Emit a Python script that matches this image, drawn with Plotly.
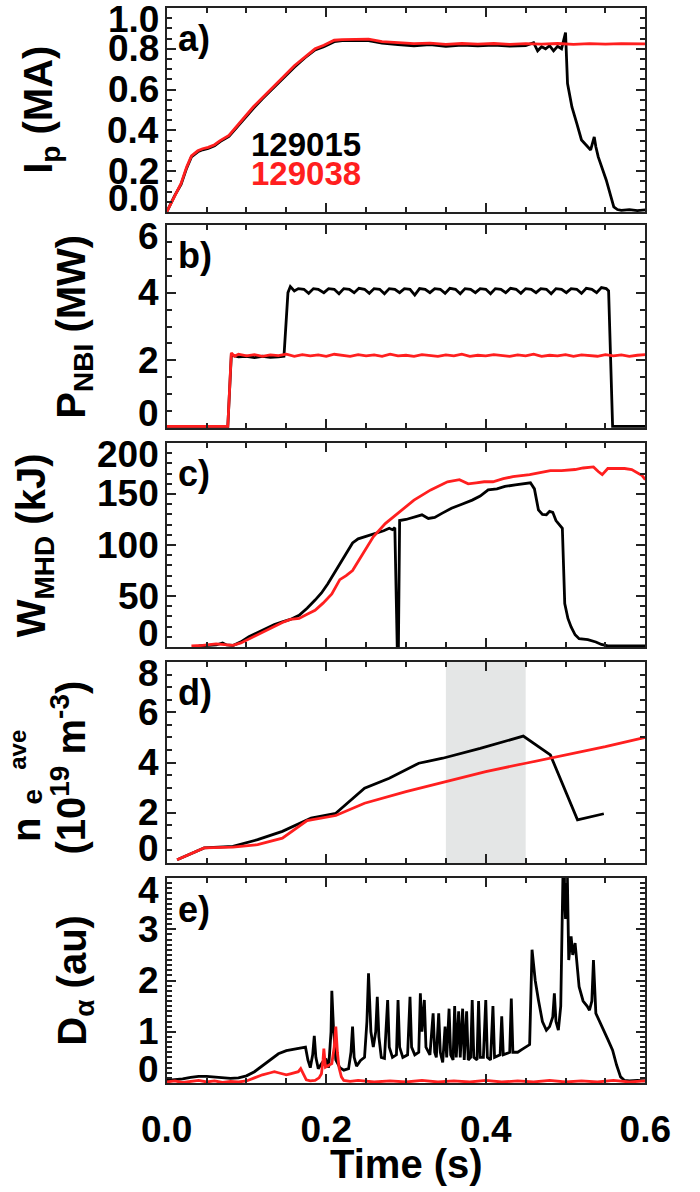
import plotly.graph_objects as go

# ---------------- data (time in s, value) ----------------
ip_129015 = [(0, 0), (0.01, 0.08), (0.018, 0.135), (0.025, 0.215), (0.031, 0.27), (0.039, 0.295),
             (0.045, 0.305), (0.052, 0.312), (0.06, 0.325), (0.067, 0.345), (0.078, 0.37), (0.09, 0.425),
             (0.109, 0.51), (0.12, 0.555), (0.134, 0.61), (0.147, 0.66), (0.16, 0.71), (0.173, 0.755),
             (0.186, 0.795), (0.197, 0.81), (0.205, 0.825), (0.21, 0.835), (0.22, 0.84), (0.238, 0.842),
             (0.253, 0.84), (0.27, 0.828), (0.29, 0.82), (0.31, 0.815), (0.33, 0.82), (0.35, 0.812),
             (0.37, 0.818), (0.39, 0.814), (0.41, 0.818), (0.43, 0.813), (0.45, 0.816), (0.46, 0.83),
             (0.465, 0.79), (0.47, 0.81), (0.475, 0.80), (0.48, 0.815), (0.485, 0.79), (0.49, 0.812),
             (0.495, 0.80), (0.4985, 0.85), (0.5, 0.88), (0.5025, 0.63), (0.508, 0.515), (0.514, 0.436),
             (0.52, 0.353), (0.5315, 0.304), (0.536, 0.368), (0.538, 0.32), (0.541, 0.27), (0.551, 0.157),
             (0.5605, 0.025), (0.565, 0.012), (0.57, 0.008), (0.58, 0.012), (0.59, 0.007), (0.6, 0.01)]
ip_129038 = [(0, 0), (0.01, 0.08), (0.018, 0.14), (0.025, 0.22), (0.031, 0.275), (0.039, 0.30),
             (0.045, 0.31), (0.052, 0.317), (0.06, 0.33), (0.067, 0.35), (0.078, 0.375), (0.09, 0.43),
             (0.109, 0.517), (0.12, 0.56), (0.134, 0.617), (0.147, 0.665), (0.16, 0.717), (0.173, 0.76),
             (0.186, 0.80), (0.197, 0.817), (0.205, 0.835), (0.21, 0.842), (0.22, 0.845), (0.238, 0.847),
             (0.253, 0.847), (0.27, 0.835), (0.29, 0.83), (0.31, 0.825), (0.33, 0.828), (0.35, 0.822),
             (0.37, 0.826), (0.39, 0.823), (0.41, 0.826), (0.43, 0.822), (0.45, 0.825), (0.47, 0.823),
             (0.49, 0.826), (0.51, 0.822), (0.53, 0.825), (0.55, 0.823), (0.57, 0.825), (0.59, 0.822),
             (0.6, 0.824)]

pnbi_129015 = [(0, 0.05), (0.0766, 0.05), (0.081, 2.15), (0.09, 2.1), (0.1, 2.12), (0.11, 2.08),
               (0.12, 2.12), (0.13, 2.09), (0.14, 2.1), (0.147, 2.12), (0.152, 4.0), (0.155, 4.18),
               (0.16, 4.05), (0.165, 4.12), (0.172, 4.1), (0.178, 3.98), (0.184, 4.12), (0.19, 4.1),
               (0.197, 4.0), (0.203, 4.12), (0.21, 4.1), (0.216, 3.97), (0.222, 4.12), (0.229, 4.1),
               (0.235, 4.0), (0.241, 4.13), (0.248, 4.1), (0.254, 3.98), (0.26, 4.12), (0.267, 4.1),
               (0.273, 3.97), (0.279, 4.12), (0.286, 4.1), (0.292, 4.0), (0.298, 4.12), (0.305, 4.1),
               (0.311, 3.93), (0.317, 4.12), (0.324, 4.1), (0.33, 4.0), (0.336, 4.12), (0.343, 4.1),
               (0.349, 3.98), (0.355, 4.13), (0.362, 4.1), (0.368, 3.97), (0.374, 4.12), (0.381, 4.1),
               (0.387, 4.0), (0.393, 4.12), (0.4, 4.1), (0.406, 3.97), (0.412, 4.12), (0.419, 4.1),
               (0.425, 4.0), (0.431, 4.13), (0.438, 4.1), (0.444, 3.98), (0.45, 4.12), (0.457, 4.1),
               (0.463, 4.0), (0.469, 4.12), (0.476, 4.1), (0.482, 3.97), (0.488, 4.12), (0.495, 4.1),
               (0.501, 4.0), (0.507, 4.12), (0.514, 4.1), (0.52, 3.98), (0.526, 4.13), (0.533, 4.1),
               (0.539, 4.0), (0.545, 4.15), (0.551, 4.12), (0.554, 4.05), (0.559, 0.05), (0.6, 0.05)]
pnbi_129038 = [(0, 0.05), (0.0766, 0.05), (0.081, 2.22), (0.085, 2.12), (0.09, 2.18), (0.1, 2.13),
               (0.11, 2.17), (0.12, 2.12), (0.13, 2.16), (0.14, 2.14), (0.15, 2.18), (0.16, 2.12),
               (0.17, 2.17), (0.18, 2.13), (0.19, 2.16), (0.2, 2.12), (0.21, 2.18), (0.22, 2.14),
               (0.23, 2.12), (0.24, 2.17), (0.25, 2.13), (0.26, 2.16), (0.27, 2.12), (0.28, 2.18),
               (0.29, 2.13), (0.3, 2.15), (0.31, 2.12), (0.32, 2.17), (0.33, 2.14), (0.34, 2.12),
               (0.35, 2.16), (0.36, 2.13), (0.37, 2.18), (0.38, 2.12), (0.39, 2.15), (0.4, 2.13),
               (0.41, 2.17), (0.42, 2.14), (0.43, 2.12), (0.44, 2.16), (0.45, 2.13), (0.46, 2.18),
               (0.47, 2.12), (0.48, 2.15), (0.49, 2.13), (0.5, 2.17), (0.51, 2.12), (0.52, 2.16),
               (0.53, 2.14), (0.54, 2.12), (0.55, 2.17), (0.56, 2.13), (0.57, 2.16), (0.58, 2.12),
               (0.59, 2.15), (0.6, 2.17)]

wmhd_129015 = [(0.04, 1), (0.062, 2), (0.07, 4), (0.075, 2), (0.083, 1.5), (0.093, 5), (0.103, 10),
               (0.114, 14), (0.124, 18), (0.135, 22), (0.145, 24.6), (0.155, 27), (0.166, 31),
               (0.176, 38), (0.186, 46), (0.194, 53), (0.202, 62), (0.21, 72), (0.217, 82), (0.225, 92),
               (0.233, 102), (0.24, 106), (0.248, 108), (0.256, 110), (0.264, 111.5), (0.272, 114),
               (0.279, 116.4), (0.283, 115), (0.286, 117), (0.2875, 60), (0.289, 0.5), (0.2905, 0.5),
               (0.292, 124), (0.3, 125), (0.31, 127), (0.32, 129.6), (0.328, 126), (0.336, 127),
               (0.345, 131), (0.357, 136), (0.37, 140), (0.383, 144), (0.393, 148), (0.403, 154),
               (0.414, 155), (0.424, 157.4), (0.437, 159), (0.45, 160.7), (0.456, 161), (0.461, 155),
               (0.466, 134.5), (0.471, 130), (0.476, 129.6), (0.48, 133), (0.484, 132), (0.488, 124),
               (0.491, 121), (0.496, 116.4), (0.499, 42.6), (0.503, 28), (0.507, 19.7), (0.512, 12),
               (0.517, 8.2), (0.523, 7.5), (0.528, 7.2), (0.538, 4.9), (0.545, 2.5), (0.553, 1),
               (0.56, 1), (0.6, 1)]
wmhd_129038 = [(0.031, 1), (0.045, 1.5), (0.062, 3), (0.075, 2), (0.083, 1.6), (0.093, 4), (0.103, 8),
               (0.114, 12), (0.124, 16), (0.135, 20), (0.145, 24), (0.155, 27), (0.166, 28), (0.176, 32),
               (0.186, 36), (0.196, 43), (0.207, 52), (0.217, 66), (0.225, 70), (0.233, 75), (0.246, 92),
               (0.259, 108), (0.274, 121), (0.29, 131), (0.31, 144), (0.331, 154), (0.352, 162),
               (0.367, 164), (0.378, 160), (0.388, 161), (0.398, 162), (0.409, 162), (0.422, 165),
               (0.434, 167), (0.445, 168), (0.455, 169), (0.468, 171), (0.481, 173), (0.495, 173),
               (0.512, 174), (0.522, 175.5), (0.535, 176.5), (0.541, 172), (0.546, 169), (0.553, 175),
               (0.564, 175), (0.574, 175), (0.583, 174), (0.59, 170.5), (0.596, 168), (0.6, 164)]

ne_129015 = [(0.013, 0.13), (0.047, 0.6), (0.083, 0.66), (0.114, 0.93), (0.145, 1.26), (0.181, 1.79),
             (0.212, 1.98), (0.248, 2.98), (0.279, 3.37), (0.316, 3.97), (0.346, 4.17), (0.393, 4.56),
             (0.447, 5.05), (0.481, 4.3), (0.515, 1.72), (0.548, 1.96)]
ne_129038 = [(0.013, 0.13), (0.047, 0.6), (0.083, 0.63), (0.114, 0.73), (0.145, 0.99), (0.176, 1.69),
             (0.212, 1.89), (0.248, 2.38), (0.3, 2.84), (0.35, 3.24), (0.4, 3.64), (0.45, 3.97),
             (0.5, 4.3), (0.55, 4.63), (0.6, 5.0)]

dalpha_129015 = [(0.0, 0.05), (0.01, 0.06), (0.02, 0.08), (0.03, 0.11), (0.04, 0.13), (0.05, 0.13),
                 (0.06, 0.12), (0.07, 0.1), (0.08, 0.09), (0.09, 0.1), (0.1, 0.14), (0.11, 0.22),
                 (0.12, 0.34), (0.13, 0.46), (0.14, 0.57), (0.15, 0.63), (0.16, 0.66), (0.17, 0.68),
                 (0.174, 0.7), (0.177, 0.45), (0.18, 0.3), (0.183, 0.55), (0.185, 0.92), (0.187, 0.5),
                 (0.19, 0.28), (0.195, 0.4), (0.2, 0.45), (0.203, 0.3), (0.206, 1.0), (0.207, 1.8),
                 (0.209, 1.1), (0.212, 0.45), (0.217, 0.3), (0.222, 0.25), (0.228, 0.28), (0.231, 0.6),
                 (0.233, 1.1), (0.235, 0.5), (0.238, 0.33), (0.243, 0.44), (0.248, 0.5), (0.251, 1.2),
                 (0.253, 2.14), (0.256, 1.0), (0.259, 0.7), (0.262, 1.0), (0.264, 1.68), (0.266, 0.9),
                 (0.269, 0.5), (0.273, 0.48), (0.275, 1.0), (0.277, 1.62), (0.279, 0.7), (0.283, 0.5),
                 (0.288, 0.55), (0.29, 1.62), (0.292, 0.7), (0.296, 0.5), (0.302, 0.55), (0.305, 1.68),
                 (0.307, 0.7), (0.311, 0.55), (0.316, 0.6), (0.318, 1.75), (0.32, 1.0), (0.323, 1.62),
                 (0.325, 0.7), (0.33, 0.55), (0.334, 1.36), (0.336, 0.6), (0.338, 0.5), (0.341, 1.36),
                 (0.343, 0.6), (0.346, 0.4), (0.349, 1.1), (0.351, 0.5), (0.354, 1.45), (0.356, 0.55),
                 (0.359, 0.45), (0.361, 1.5), (0.363, 0.5), (0.366, 1.4), (0.368, 0.5), (0.371, 1.45),
                 (0.373, 0.45), (0.376, 1.4), (0.378, 0.45), (0.381, 0.5), (0.383, 1.62), (0.385, 0.5),
                 (0.389, 0.45), (0.391, 1.6), (0.393, 0.5), (0.397, 0.5), (0.4, 1.62), (0.402, 0.5),
                 (0.406, 0.45), (0.409, 1.5), (0.411, 0.5), (0.418, 0.55), (0.42, 1.3), (0.422, 0.55),
                 (0.43, 0.6), (0.432, 1.65), (0.434, 0.6), (0.44, 0.6), (0.445, 0.65), (0.45, 0.7),
                 (0.455, 0.75), (0.458, 2.6), (0.462, 2.0), (0.466, 1.62), (0.471, 1.2), (0.476, 1.03),
                 (0.48, 1.1), (0.484, 1.29), (0.486, 1.75), (0.488, 1.2), (0.491, 1.03), (0.494, 1.5),
                 (0.497, 4.3), (0.5, 3.2), (0.502, 4.3), (0.504, 2.4), (0.507, 2.86), (0.509, 2.5),
                 (0.512, 2.73), (0.517, 1.88), (0.522, 1.6), (0.527, 1.5), (0.53, 1.42), (0.533, 1.6),
                 (0.535, 2.4), (0.538, 1.36), (0.543, 1.2), (0.548, 1.03), (0.553, 0.85), (0.559, 0.64),
                 (0.564, 0.35), (0.569, 0.12), (0.574, 0.05), (0.58, 0.04), (0.59, 0.05), (0.6, 0.04)]
dalpha_129038 = [(0, 0.02), (0.01, 0.04), (0.02, 0.01), (0.03, 0.03), (0.04, 0.05), (0.05, 0.02),
                 (0.06, 0.04), (0.07, 0.01), (0.08, 0.03), (0.09, 0.02), (0.1, 0.04), (0.11, 0.1),
                 (0.12, 0.16), (0.13, 0.2), (0.135, 0.22), (0.14, 0.2), (0.15, 0.16), (0.155, 0.18),
                 (0.16, 0.2), (0.165, 0.22), (0.168, 0.28), (0.171, 0.18), (0.175, 0.06), (0.18, 0.04),
                 (0.186, 0.05), (0.191, 0.1), (0.194, 0.18), (0.196, 0.45), (0.197, 0.67), (0.199, 0.31),
                 (0.203, 0.35), (0.207, 0.38), (0.21, 0.7), (0.212, 1.1), (0.214, 0.6), (0.216, 0.3),
                 (0.219, 0.12), (0.222, 0.05), (0.23, 0.03), (0.24, 0.05), (0.26, 0.02), (0.28, 0.04),
                 (0.3, 0.02), (0.32, 0.05), (0.34, 0.02), (0.36, 0.04), (0.38, 0.02), (0.4, 0.05),
                 (0.42, 0.02), (0.44, 0.04), (0.46, 0.02), (0.48, 0.05), (0.5, 0.02), (0.52, 0.04),
                 (0.54, 0.02), (0.56, 0.05), (0.58, 0.02), (0.6, 0.04)]

shots = ["129015", "129038"]
panel_letters = ["a)", "b)", "c)", "d)", "e)"]
y_ranges = [[0, 1], [0, 6], [0, 200], [0, 8], [0, 4]]
y_tickvals = [[0, 0.2, 0.4, 0.6, 0.8, 1.0], [0, 2, 4, 6], [0, 50, 100, 150, 200],
              [0, 2, 4, 6, 8], [0, 1, 2, 3, 4]]
y_ticktext = [["0.0", "0.2", "0.4", "0.6", "0.8", "1.0"], ["0", "2", "4", "6"],
              ["0", "50", "100", "150", "200"], ["0", "2", "4", "6", "8"], ["0", "1", "2", "3", "4"]]
y_minor = [0.05, 0.5, 10, 0.5, 0.1]
x_tickvals = [0, 0.2, 0.4, 0.6]
x_ticktext = ["0.0", "0.2", "0.4", "0.6"]
shade_window = [0.35, 0.45]

# ---------------- layout constants ----------------
W, H = 700, 1192
XL, XR = 152, 669
panels_px = [(8, 212), (225, 428), (443, 647), (662, 863), (878, 1083)]
BLACK = "#000000"
RED = "#ff1f1f"
AX = "#222222"
FONT = "Liberation Sans, Arial, sans-serif"
LW = 2.8

series = [(ip_129015, ip_129038), (pnbi_129015, pnbi_129038), (wmhd_129015, wmhd_129038),
          (ne_129015, ne_129038), (dalpha_129015, dalpha_129038)]

fig = go.Figure()

for i, (blk, red) in enumerate(series):
    k = i + 1
    xa = "x" if k == 1 else f"x{k}"
    ya = "y" if k == 1 else f"y{k}"
    for data, col, name in ((blk, BLACK, shots[0]), (red, RED, shots[1])):
        fig.add_trace(go.Scatter(x=[p[0] for p in data], y=[p[1] for p in data], mode="lines",
                                 line=dict(color=col, width=LW), name=name, showlegend=False,
                                 xaxis=xa, yaxis=ya))

layout = dict(width=W, height=H, margin=dict(l=0, r=0, t=0, b=0),
              paper_bgcolor="white", plot_bgcolor="white", showlegend=False)

tickfont = dict(family=FONT, size=37, color="black", weight="bold")
for i in range(5):
    k = i + 1
    top, bot = panels_px[i]
    xs = "" if k == 1 else str(k)
    layout["xaxis" + xs] = dict(
        domain=[XL / W, XR / W], range=[0, 0.6], anchor="y" + xs,
        tickvals=x_tickvals, ticktext=x_ticktext, showticklabels=(k == 5),
        ticks="inside", ticklen=9, tickwidth=2, tickcolor=AX,
        minor=dict(tickmode="linear", tick0=0, dtick=0.05, ticks="inside", ticklen=5,
                   tickwidth=1.5, tickcolor=AX),
        showline=True, mirror="ticks", linecolor=AX, linewidth=2.2,
        showgrid=False, zeroline=False, tickfont=tickfont, ticklabelstandoff=12)
    layout["yaxis" + xs] = dict(
        domain=[1 - bot / H, 1 - top / H], range=y_ranges[i], anchor="x" + xs,
        tickvals=y_tickvals[i], showticklabels=False,
        ticks="inside", ticklen=9, tickwidth=2, tickcolor=AX,
        minor=dict(tickmode="linear", tick0=0, dtick=y_minor[i], ticks="inside", ticklen=5,
                   tickwidth=1.5, tickcolor=AX),
        showline=True, mirror="ticks", linecolor=AX, linewidth=2.2,
        showgrid=False, zeroline=False)

fig.update_layout(**layout)

# shaded analysis window in panel d
fig.add_shape(type="rect", xref="x4", yref="y4 domain", x0=shade_window[0], x1=shade_window[1],
              y0=0, y1=1, fillcolor="#e4e6e6", line=dict(width=0), layer="below")

# y tick labels (end labels kept inside the frame as in the original)
for i in range(5):
    k = i + 1
    xs = "" if k == 1 else str(k)
    n = len(y_tickvals[i])
    for j, (v, txt) in enumerate(zip(y_tickvals[i], y_ticktext[i])):
        ys = 14 if j == 0 else (-12 if j == n - 1 else 0)
        fig.add_annotation(x=0, xref=f"x{xs} domain", xanchor="right", xshift=-6,
                           y=v, yref="y" + xs, yanchor="middle", yshift=ys,
                           text=txt, showarrow=False, font=tickfont)

# panel letters
for i, letter in enumerate(panel_letters):
    k = i + 1
    xs = "" if k == 1 else str(k)
    fig.add_annotation(x=0, xref=f"x{xs} domain", xanchor="left", xshift=9,
                       y=1, yref=f"y{xs} domain", yanchor="middle", yshift=-31,
                       text=letter, showarrow=False,
                       font=dict(family=FONT, size=36, color="black", weight="bold"))

# shot-number legend in panel a
leg_font = 33
fig.add_annotation(x=303 / W, xref="paper", y=1 - 144 / H, yref="paper", text=shots[0],
                   xanchor="center", yanchor="middle", showarrow=False,
                   font=dict(family=FONT, size=leg_font, color=BLACK, weight="bold"))
fig.add_annotation(x=303 / W, xref="paper", y=1 - 174 / H, yref="paper", text=shots[1],
                   xanchor="center", yanchor="middle", showarrow=False,
                   font=dict(family=FONT, size=leg_font, color=RED, weight="bold"))

# y-axis titles
tfont = dict(family=FONT, size=40, color="black", weight="bold")
def pcy(i):
    top, bot = panels_px[i]
    return 1 - (top + bot) / 2 / H

def vtitle(xpx, ypaper, text, font):
    fig.add_annotation(x=xpx / W, xref="paper", y=ypaper, yref="paper", text=text,
                       xanchor="center", yanchor="middle", textangle=-90,
                       showarrow=False, font=font)

vtitle(16, pcy(0), "I<sub>p</sub> (MA)", tfont)
vtitle(52, pcy(1), "P<sub>NBI</sub> (MW)", tfont)
vtitle(9, pcy(2), "W<sub>MHD</sub> (kJ)", tfont)
vtitle(0, 1 - 830 / H, "n", tfont)
vtitle(6, 1 - 797 / H, "e", dict(family=FONT, size=28, color="black", weight="bold"))
vtitle(-10, 1 - 750 / H, "ave", dict(family=FONT, size=24, color="black", weight="bold"))
vtitle(46, 1 - 768 / H, "(10<sup>19</sup> m<sup>-3</sup>)", tfont)
vtitle(52, pcy(4), "D<sub>α</sub> (au)", tfont)

# x-axis title
fig.add_annotation(x=(XL + XR) / 2 / W, xref="paper", y=1 - 1164 / H, yref="paper",
                   xanchor="center", yanchor="middle",
                   text="Time (s)", showarrow=False, font=tfont)

fig.write_html("out.html")
